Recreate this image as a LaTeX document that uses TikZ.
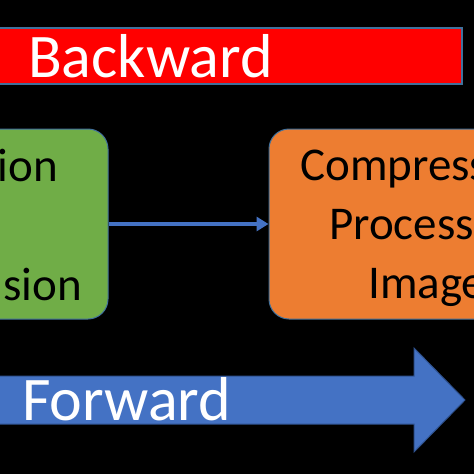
\documentclass[tikz,border=0pt]{standalone}
\usepackage{fontspec}
\setmainfont{Carlito}
\usepackage{xcolor}
\usepackage{tikz}
\usetikzlibrary{shapes.geometric, arrows.meta}
\definecolor{barred}{HTML}{FF0000}
\definecolor{boxgreen}{HTML}{70AD47}
\definecolor{boxorange}{HTML}{ED7D31}
\definecolor{fwdblue}{HTML}{4472C4}
\definecolor{edgeblue}{HTML}{41719C}
\definecolor{fwdedge}{HTML}{2F528F}
\tikzstyle{arrow} = [line width=4pt,-{Triangle[length=12pt,width=14pt]},fwdblue]
\tikzstyle{box} = [draw=edgeblue,line width=1pt,rounded corners=20pt,minimum width=250pt,minimum height=190pt]
\tikzstyle{bigword} = [font=\fontsize{62}{74}\selectfont,white,inner sep=0pt]
\tikzstyle{boxword} = [font=\fontsize{47}{56}\selectfont,black,inner sep=0pt]

\begin{document}
\begin{tikzpicture}[x=1pt,y=-1pt]
			\useasboundingbox (0,0) rectangle (474,474);
			\fill[black] (0,0) rectangle (474,474);
			\clip (0,0) rectangle (474,474);
			
			% Backward bar:
			% A plain red rectangle running off the left edge, with the label on it
			\draw[fill=barred,draw=edgeblue,line width=1.2pt] (-5,28) rectangle (462,84);
			\node[bigword,anchor=base west] (back) at (28,77) {Backward};
			
			% Boxes:
			% Both are cut by the edge of the picture, so only parts of the words show
			\node[box,fill=boxgreen] (source) at (-17,224) {};
			\node[box,fill=boxorange] (result) at (394,224) {};
			
			\node[boxword,anchor=base east] (srcA) at (58,181) {ion};
			\node[boxword,anchor=base east] (srcC) at (82,300) {sion};
			
			\node[boxword,anchor=base west] (resA) at (300,180) {Compress};
			\node[boxword,anchor=base west] (resB) at (329,239) {Process};
			\node[boxword,anchor=base west] (resC) at (368,298) {Image};
			
			\draw[arrow] (source) -- (result);
			
			% Forward arrow:
			% Drawn as one closed path, shaft and head
			\draw[fill=fwdblue,draw=fwdedge,line width=1pt] (-5,376) -- (414,376) -- (414,348) -- (465,400) -- (414,452) -- (414,424) -- (-5,424) -- cycle;
			\node[bigword,anchor=base west] (fwd) at (22,420) {Forward};
			
\end{tikzpicture}
\end{document}
